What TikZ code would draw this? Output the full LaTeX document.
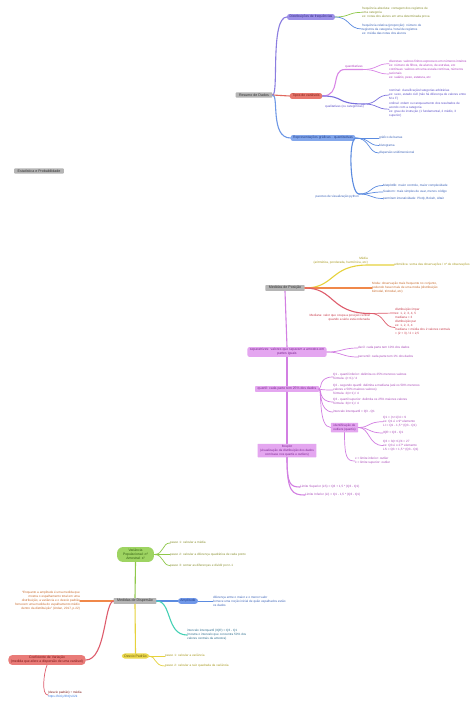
\documentclass[tikz,border=0pt]{standalone}
\usepackage{fontspec}
\setmainfont{Liberation Sans}
\definecolor{boxgray}{HTML}{B5B5B5}
\definecolor{distfill}{HTML}{9D90E8}
\definecolor{disttext}{HTML}{2F2780}
\definecolor{tipofill}{HTML}{E8786E}
\definecolor{tipotext}{HTML}{7A1A10}
\definecolor{reprfill}{HTML}{83A7EC}
\definecolor{reprtext}{HTML}{1D3B8A}
\definecolor{pFill}{HTML}{E4A6F0}
\definecolor{pText}{HTML}{7A2590}
\definecolor{vFill}{HTML}{9ED462}
\definecolor{vText}{HTML}{2F5A10}
\definecolor{aFill}{HTML}{6F97E8}
\definecolor{aText}{HTML}{1D3B8A}
\definecolor{dFill}{HTML}{EBD84C}
\definecolor{dText}{HTML}{6A5A10}
\definecolor{cFill}{HTML}{E97B78}
\definecolor{cText}{HTML}{7A1414}
\definecolor{cDist}{HTML}{8B7DE0}
\definecolor{cTipo}{HTML}{E0685E}
\definecolor{cRepr}{HTML}{6E98E6}
\definecolor{cGreen}{HTML}{8FC84A}
\definecolor{cBlue}{HTML}{5B8BE0}
\definecolor{cPink}{HTML}{D986E6}
\definecolor{cViolet}{HTML}{7A70DE}
\definecolor{cYellow}{HTML}{E6D23C}
\definecolor{cOrange}{HTML}{F0884A}
\definecolor{cRed}{HTML}{DE5C6C}
\definecolor{cPurple}{HTML}{D27FE2}
\definecolor{cTeal}{HTML}{45D1B5}
\definecolor{tGreen}{HTML}{8A9030}
\definecolor{tBlue}{HTML}{3B62B8}
\definecolor{tPink}{HTML}{B040C0}
\definecolor{tViolet}{HTML}{5B4FC8}
\definecolor{tYellow}{HTML}{A89A20}
\definecolor{tOrange}{HTML}{C8692A}
\definecolor{tRed}{HTML}{C83A4A}
\definecolor{tPurple}{HTML}{A848B8}
\definecolor{tTeal}{HTML}{2F6F8F}
\definecolor{linkblue}{HTML}{3A7AE0}
\newcommand{\fs}{\fontsize{3.1}{4}\selectfont}
\newcommand{\fb}{\fontsize{3.4}{4.2}\selectfont}
\newcommand{\fg}{\fontsize{3.6}{4.4}\selectfont}
\begin{document}
\begin{tikzpicture}[x=1pt,y=-1pt,line cap=round,line join=round,
  txt/.style={font=\fs,inner sep=0pt,anchor=west,align=left},
  lbl/.style={txt,inner ysep=0.8pt},
  topic/.style={font=\fb,rounded corners=2.2pt,inner xsep=2.5pt,inner ysep=1.3pt,align=center},
  cinza/.style={topic,font=\fg,rounded corners=0.8pt,inner xsep=3.5pt,fill=boxgray,text=black!80},
  roxo/.style={topic,rounded corners=0.6pt,fill=pFill,text=pText},
  ramo/.style={line width=1.1pt},
  galho/.style={line width=0.7pt}]
  \fill[white] (0,0) rectangle (474,707);
  \useasboundingbox (0,0) rectangle (474,707);
  \node[cinza] (raiz) at (39,171) {Estatística e Probabilidade};
  \node[cinza] (resumo) at (254,95) {Resumo de Dados};
  \node[topic,fill=distfill,text=disttext] (dist) at (311,17) {Distribuições de frequências};
  \node[topic,fill=tipofill,text=tipotext] (tipos) at (306,96) {Tipos de variáveis};
  \node[topic,fill=reprfill,text=reprtext] (repr) at (323,138) {Representações gráficas - quantitativas};
  \draw[ramo,cDist] (resumo.east) .. controls (279,95) and (270,17) .. (dist.west);
  \draw[ramo,cTipo] (resumo.east) -- (tipos.west);
  \draw[ramo,cRepr] (resumo.east) .. controls (279,95) and (270,138) .. (repr.west);
  \node[txt,text=tGreen] (fabs) at (362,12.3) {frequência absoluta: contagem dos registros de\\uma categoria\\ex: notas dos alunos em uma determinada prova};
  \node[txt,text=tBlue] (frel) at (362,29) {frequência relativa (proporção): número de\\registros da categoria / total de registros\\ex: média das notas dos alunos};
  \draw[galho,cGreen] (dist.east) .. controls (350,17) and (348,12.3) .. (fabs.west);
  \draw[galho,cBlue] (dist.east) .. controls (350,17) and (348,29) .. (frel.west);
  \node[lbl,text=tPink,anchor=south west] (quanti) at (345,69.5) {quantitativas};
  \draw[ramo,cPink] (tipos.east) .. controls (342,96) and (330,69.5) .. (quanti.south west) -- (quanti.south east);
  \node[txt,text=tPink] (discr) at (389,63.7) {discretas: valores finitos expressos em números inteiros\\ex: número de filhos, de alunos, de estrelas, etc};
  \node[txt,text=tPink] (cont) at (389,74) {contínuas: valores em uma escala contínua, números\\racionais\\ex: salário, peso, estatura, etc};
  \draw[galho,cPink] (quanti.south east) .. controls (378,69.5) and (376,63.7) .. (discr.west);
  \draw[galho,cPink] (quanti.south east) .. controls (378,69.5) and (376,74) .. (cont.west);
  \node[lbl,text=tViolet,anchor=north east] (quali) at (364,104) {qualitativas (ou categóricas)};
  \draw[ramo,cViolet] (tipos.east) .. controls (345,96) and (335,104) .. (quali.north east);
  \node[txt,text=tViolet] (nomin) at (389,95) {nominal: classificação/categorias arbitrárias\\ex: sexo, estado civil (não há diferença de valores entre\\M e F)};
  \node[txt,text=tViolet] (ordin) at (389,109.2) {ordinal: ordem ou ranqueamento dos resultados de\\acordo com a categoria\\ex: grau de instrução (1 fundamental, 2 médio, 3\\superior)};
  \draw[galho,cViolet] (quali.north east) .. controls (378,104) and (376,95) .. (nomin.west);
  \draw[galho,cViolet] (quali.north east) .. controls (378,104) and (376,109.2) .. (ordin.west);
  \node[txt,text=tBlue] (barras) at (379,138) {gráfico de barras};
  \node[txt,text=tBlue] (histo) at (379,145.5) {histograma};
  \node[txt,text=tBlue] (dispu) at (379,153) {dispersão unidimensional};
  \draw[galho,cBlue] (repr.east) -- (barras.west);
  \draw[galho,cBlue] (repr.east) .. controls (370,138) and (368,145.5) .. (histo.west);
  \draw[galho,cBlue] (repr.east) .. controls (370,138) and (368,153) .. (dispu.west);
  \node[lbl,text=tBlue,anchor=north east] (pacotes) at (359,194) {pacotes de visualização python};
  \draw[ramo,cBlue] (repr.east) .. controls (348,140) and (350,194) .. (pacotes.north east);
  \node[txt,text=tBlue] (matpl) at (383,185.5) {Matplotlib: maior controle, maior complexidade};
  \node[txt,text=tBlue] (seab) at (383,192) {Seaborn: mais simples de usar, menos código};
  \node[txt,text=tBlue] (plotly) at (383,198.5) {permitem interatividade: Plotly, Bokeh, Altair};
  \draw[galho,cBlue] (pacotes.north east) .. controls (372,194) and (370,185.5) .. (matpl.west);
  \draw[galho,cBlue] (pacotes.north east) .. controls (372,194) and (370,192) .. (seab.west);
  \draw[galho,cBlue] (pacotes.north east) .. controls (372,194) and (370,198.5) .. (plotly.west);

  \node[cinza] (posicao) at (285,288) {Medidas de Posição};
  \node[lbl,text=tYellow,anchor=south east,align=right] (media) at (368,265) {Média\\(aritmética, ponderada, harmônica, etc)};
  \node[txt,text=tYellow] (aritm) at (394,265) {aritmética: soma das observações / nº de observações};
  \draw[ramo,cYellow] (posicao.east) .. controls (335,288) and (330,265) .. (media.south east) -- (aritm.west);
  \node[txt,text=tOrange] (moda) at (372,288) {Moda: observação mais frequente no conjunto,\\podendo haver mais de uma moda (distribuição\\bimodal, trimodal, etc)};
  \draw[ramo,cOrange] (posicao.east) -- (moda.west);
  \node[lbl,text=tRed,anchor=north east,align=right] (mediana) at (370,313.5) {Mediana: valor que ocupa a posição central\\quando a série está ordenada};
  \draw[ramo,cRed] (posicao.east) .. controls (335,288) and (330,313.5) .. (mediana.north east);
  \node[txt,text=tRed] (impar) at (395,313) {distribuição ímpar\\ex: 1, 2, 3, 4, 5\\mediana = 3};
  \node[txt,text=tRed] (par) at (395,327.5) {distribuição par\\ex: 1, 2, 3, 4\\mediana = média dos 2 valores centrais\\= (2 + 3) / 2 = 2,5};
  \draw[galho,cRed] (mediana.north east) -- (impar.west);
  \draw[galho,cRed] (mediana.north east) .. controls (386,313.5) and (382,327.5) .. (par.west);
  \node[topic,fill=pFill,text=pText] (separ) at (287,352) {separatrizes: valores que separam a amostra em\\partes iguais};
  \node[txt,text=tPurple] (decil) at (358,348) {decil: cada parte tem 10\% dos dados};
  \node[txt,text=tPurple] (percentil) at (358,357) {percentil: cada parte tem 1\% dos dados};
  \draw[galho,cPurple] (separ.east) .. controls (342,352) and (342,348) .. (decil.west);
  \draw[galho,cPurple] (separ.east) .. controls (342,352) and (342,357) .. (percentil.west);
  \node[roxo] (quartil) at (287,389) {quartil: cada parte tem 25\% dos dados};
  \draw[ramo,cPurple] (posicao.south) -- (separ.north);
  \draw[ramo,cPurple] (separ.south) -- (quartil.north);
  \node[txt,text=tPurple] (qum) at (333,377) {Q1 - quartil inferior: delimita os 25\% menores valores\\fórmula: (n+1) / 4};
  \node[txt,text=tPurple] (qdois) at (333,390) {Q2 - segundo quartil: delimita a mediana (até os 50\% menores\\valores e 50\% maiores valores)\\fórmula: 2(n+1) / 4};
  \node[txt,text=tPurple] (qtres) at (333,402) {Q3 - quartil superior: delimita os 25\% maiores valores\\fórmula: 3(n+1) / 4};
  \node[txt,text=tPurple] (iqr) at (333,412) {intervalo interquartil = Q3 - Q1};
  \node[roxo,font=\fs] (outl) at (344.5,427.5) {identificação de\\outliers (quartis)};
  \draw[galho,cPurple] (quartil.east) .. controls (322,389) and (318,377) .. (qum.west);
  \draw[galho,cPurple] (quartil.east) .. controls (322,389) and (318,390) .. (qdois.west);
  \draw[galho,cPurple] (quartil.east) .. controls (322,389) and (318,402) .. (qtres.west);
  \draw[galho,cPurple] (quartil.east) .. controls (322,389) and (318,412) .. (iqr.west);
  \draw[galho,cPurple] (quartil.east) .. controls (322,389) and (318,427.5) .. (outl.west);
  \node[txt,text=tPurple] (oum) at (383,421.7) {Q1 = (n+1)/4 = 9\\ex: Q1 é o 9º elemento\\LI = Q1 - 1,5 * (Q3 - Q1)};
  \node[txt,text=tPurple] (odois) at (383,433) {IQR = Q3 - Q1};
  \node[txt,text=tPurple] (otres) at (383,445.5) {Q3 = 3(n+1)/4 = 27\\ex: Q3 é o 27º elemento\\LS = Q3 + 1,5 * (Q3 - Q1)};
  \draw[galho,cPurple] (outl.east) .. controls (370,427.5) and (368,421.7) .. (oum.west);
  \draw[galho,cPurple] (outl.east) .. controls (370,427.5) and (368,433) .. (odois.west);
  \draw[galho,cPurple] (outl.east) .. controls (370,427.5) and (368,445.5) .. (otres.west);
  \node[txt,text=tPurple] (olim) at (355,461) {x < limite inferior: outlier\\x > limite superior: outlier};
  \draw[galho,cPurple] (outl.south) .. controls (344.5,458) and (347,461) .. (olim.west);
  \node[roxo,font=\fs] (boxplot) at (287,450.5) {Boxplot\\(visualização da distribuição dos dados\\com base nos quartis e outliers)};
  \draw[ramo,cPurple] (quartil.south) -- (boxplot.north);
  \node[txt,text=tPurple] (ls) at (300,487) {Limite Superior (LS) = Q3 + 1,5 * (Q3 - Q1)};
  \node[txt,text=tPurple] (li) at (305,495) {Limite Inferior (LI) = Q1 - 1,5 * (Q3 - Q1)};
  \draw[ramo,cPurple] (boxplot.south) .. controls (287,484) and (290,487) .. (ls.west);
  \draw[ramo,cPurple] (boxplot.south) .. controls (287,492) and (292,495) .. (li.west);

  \node[cinza] (dispersao) at (135,601) {Medidas de Dispersão};
  \node[topic,rounded corners=6pt,inner xsep=6pt,inner ysep=2pt,fill=vFill,text=vText] (variancia) at (135.5,554.5) {Variância\\Populacional: σ²\\Amostral: s²};
  \draw[ramo,cGreen] (dispersao.north) -- (variancia.south);
  \node[txt,text=tGreen] (vum) at (170,543) {passo 1: calcular a média};
  \node[txt,text=tGreen] (vdois) at (170,554.5) {passo 2: calcular a diferença quadrática de cada ponto};
  \node[txt,text=tGreen] (vtres) at (170,565.5) {passo 3: somar as diferenças e dividir por n-1};
  \draw[galho,cGreen] (variancia.east) .. controls (164,554.5) and (162,543) .. (vum.west);
  \draw[galho,cGreen] (variancia.east) -- (vdois.west);
  \draw[galho,cGreen] (variancia.east) .. controls (164,554.5) and (162,565.5) .. (vtres.west);
  \node[txt,text=tOrange,anchor=east,align=right] (citacao) at (80,601) {“Enquanto a amplitude é uma medida que\\mostra o espalhamento total em uma\\distribuição, a variância e o desvio padrão\\fornecem uma medida do espalhamento médio\\dentro da distribuição” (Urdan, 2017, p.22)};
  \draw[ramo,cOrange] (dispersao.west) -- (citacao.east);
  \node[topic,rounded corners=3pt,fill=aFill,text=aText] (amplitude) at (188,601) {Amplitude};
  \draw[ramo,cBlue] (dispersao.east) -- (amplitude.west);
  \node[txt,text=tBlue] (ampltxt) at (213,601) {diferença entre o maior e o menor valor\\fornece uma noção inicial de quão espalhados estão\\os dados};
  \draw[galho,cBlue] (amplitude.east) -- (ampltxt.west);
  \node[txt,text=tTeal] (iqrd) at (187,635) {intervalo interquartil (IQR) = Q3 - Q1\\(mostra o intervalo que concentra 50\% dos\\valores centrais da amostra)};
  \draw[ramo,cTeal] (dispersao.east) .. controls (172,601) and (166,635) .. (iqrd.west);
  \node[topic,rounded corners=3pt,fill=dFill,text=dText] (desvio) at (135.5,656) {Desvio Padrão};
  \draw[ramo,cYellow] (dispersao.south) -- (desvio.north);
  \node[txt,text=tYellow] (dum) at (165,656) {passo 1: calcular a variância};
  \node[txt,text=tYellow] (ddois) at (165,666) {passo 2: calcular a raiz quadrada da variância};
  \draw[galho,cYellow] (desvio.east) -- (dum.west);
  \draw[galho,cYellow] (desvio.east) .. controls (156,656) and (154,666) .. (ddois.west);
  \node[topic,rounded corners=4pt,fill=cFill,text=cText] (coef) at (47,660) {Coeficiente de Variação\\(medida que afere a dispersão de uma variável)};
  \draw[ramo,cRed] (dispersao.west) .. controls (104,603) and (106,660) .. (coef.east);
  \node[txt] (formula) at (48,695) {\textcolor{cText}{(desvio padrão) ÷ média}\\\textcolor{linkblue}{https://bit.ly/3hQvX2k}};
  \draw[galho,cRed] (coef.south) .. controls (44,672) and (41,695) .. (formula.west);
\end{tikzpicture}
\end{document}
